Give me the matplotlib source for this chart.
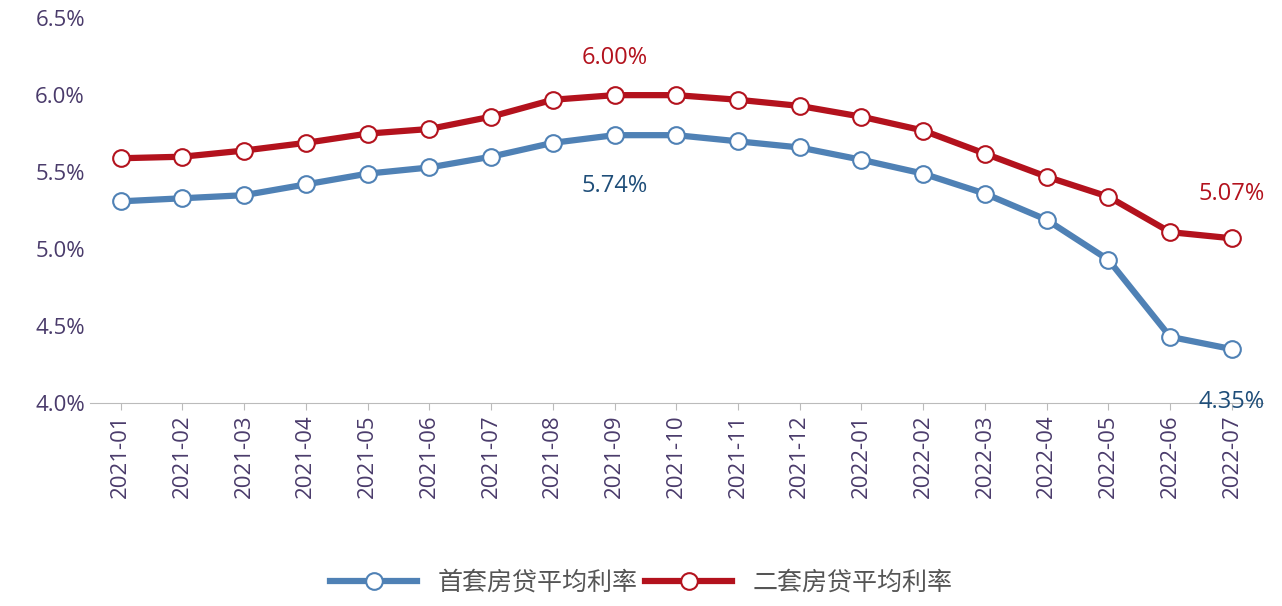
import matplotlib
matplotlib.use("Agg")
import matplotlib.pyplot as plt

months = ["2021-01","2021-02","2021-03","2021-04","2021-05","2021-06","2021-07","2021-08","2021-09",
          "2021-10","2021-11","2021-12","2022-01","2022-02","2022-03","2022-04","2022-05","2022-06","2022-07"]
first_home = [5.31,5.33,5.35,5.42,5.49,5.53,5.60,5.69,5.74,5.74,5.70,5.66,5.58,5.49,5.36,5.19,4.93,4.43,4.35]
second_home = [5.59,5.60,5.64,5.69,5.75,5.78,5.86,5.97,6.00,6.00,5.97,5.93,5.86,5.77,5.62,5.47,5.34,5.11,5.07]
yticks = [4.0,4.5,5.0,5.5,6.0,6.5]

plt.rcParams["font.family"] = ["Open Sans", "Noto Sans CJK SC"]
fig = plt.figure(figsize=(12.82,6.06), dpi=100)
ax = fig.add_axes([0.07,0.335,0.915,0.635])
x = range(len(months))
blue = "#4f81b5"; red = "#b3121d"
ax.plot(x, first_home, color=blue, lw=4.5, marker="o", ms=12, mfc="white", mec=blue, mew=1.5,
        solid_joinstyle="round", label="首套房贷平均利率")
ax.plot(x, second_home, color=red, lw=4.5, marker="o", ms=12, mfc="white", mec=red, mew=1.5,
        solid_joinstyle="round", label="二套房贷平均利率")
ax.set_ylim(4.0,6.5)
ax.set_xlim(-0.5,len(months)-0.5)
ax.set_yticks(yticks)
ax.set_yticklabels([f"{v:.1f}%" for v in yticks], color="#4a3b6b", fontsize=16)
ax.set_xticks(list(x))
ax.set_xticklabels(months, rotation=90, color="#4a3b6b", fontsize=16)
for s in ["top","right","left"]:
    ax.spines[s].set_visible(False)
ax.spines["bottom"].set_color("#bbbbbb")
ax.tick_params(axis="y", length=0)
ax.tick_params(axis="x", length=5, color="#bbbbbb")
ax.text(8, second_home[8]+0.2, f"{second_home[8]:.2f}%", color=red, fontsize=17, ha="center")
ax.text(8, first_home[8]-0.37, f"{first_home[8]:.2f}%", color="#1f4e79", fontsize=17, ha="center")
ax.text(18, second_home[18]+0.25, f"{second_home[18]:.2f}%", color=red, fontsize=17, ha="center")
ax.text(18, first_home[18]-0.38, f"{first_home[18]:.2f}%", color="#1f4e79", fontsize=17, ha="center")
fig.legend(loc="lower center", ncol=2, frameon=False, fontsize=18, handlelength=3.5,
           bbox_to_anchor=(0.5,-0.02), columnspacing=0.3, labelcolor="#555555")
fig.savefig("out.png", dpi=100)
